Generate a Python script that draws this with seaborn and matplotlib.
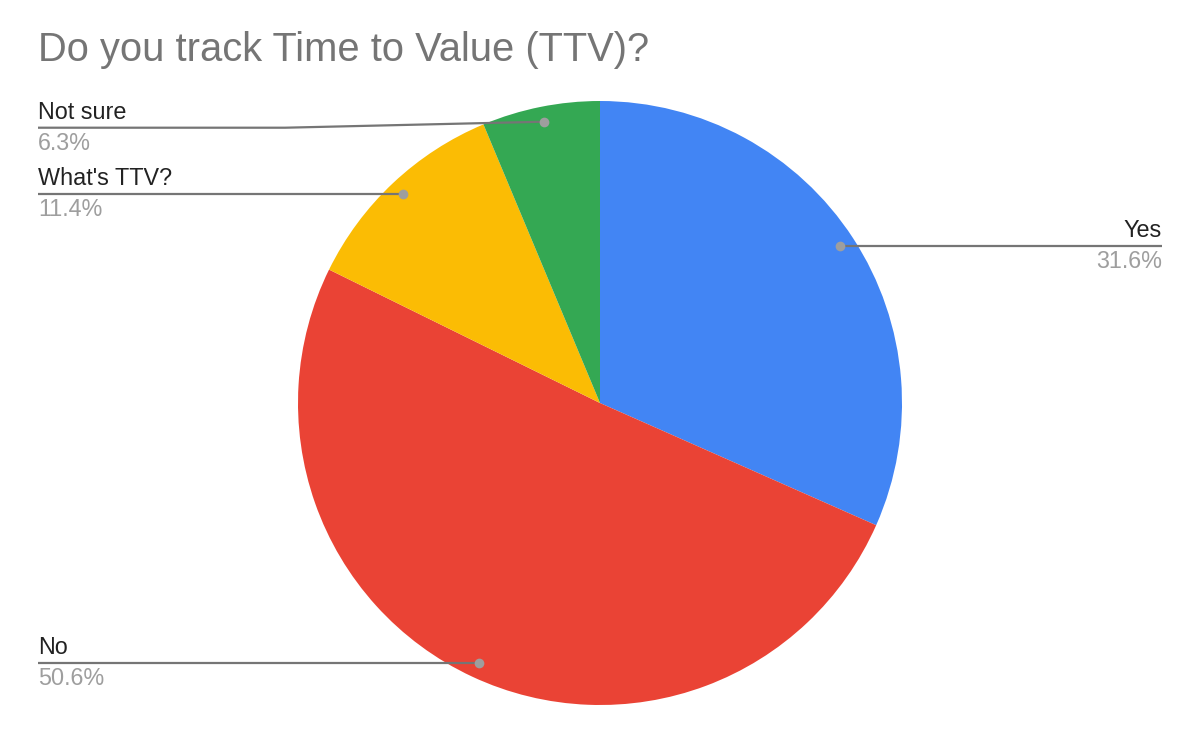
import numpy as np
import matplotlib
matplotlib.use('Agg')
import matplotlib.pyplot as plt
import seaborn as sns

categories = ['Yes', 'No', "What's TTV?", 'Not sure']
shares = [31.6, 50.6, 11.4, 6.3]
colors = ['#4285f4', '#ea4335', '#fbbc04', '#34a853']

sns.set_theme(style='white')
plt.rcParams['font.family'] = ['Liberation Sans', 'DejaVu Sans']

W, H = 1200, 742
fig = plt.figure(figsize=(12, 7.42), dpi=100)
ax = fig.add_axes([0, 0, 1, 1])

cx, cy, r = 600, H - 403, 302
wedges, _ = ax.pie(shares, colors=colors, startangle=90, counterclock=False,
                   center=(cx, cy), radius=r, wedgeprops=dict(linewidth=0))
ax.set_xlim(0, W)
ax.set_ylim(0, H)
ax.set_aspect('equal')
ax.axis('off')

# label placement: side, x of label, extra offset of the horizontal line
sides = {'Yes': ('right', 1162, 0), 'No': ('left', 38, 0),
         "What's TTV?": ('left', 38, 0), 'Not sure': ('left', 38, -6)}

for w, name, val in zip(wedges, categories, shares):
    mid = np.deg2rad((w.theta1 + w.theta2) / 2)
    dx = cx + 0.95 * r * np.cos(mid)
    dy = cy + 0.95 * r * np.sin(mid)
    side, lx, off = sides[name]
    ly = dy + off
    if off:
        bx = 285
        ax.plot([lx, bx, dx], [ly, ly, dy], color='#757575', lw=1.6,
                solid_capstyle='butt', zorder=3)
    else:
        ax.plot([lx, dx], [ly, dy], color='#757575', lw=1.6,
                solid_capstyle='butt', zorder=3)
    ax.plot(dx, dy, 'o', color='#9e9e9e', ms=7, mec='none', zorder=4)
    ha = 'right' if side == 'right' else 'left'
    ax.text(lx, ly + 4, name, ha=ha, va='bottom', fontsize=16.8, color='#222222')
    ax.text(lx, ly - 4, f'{val}%', ha=ha, va='top', fontsize=16.8, color='#9e9e9e')

ax.text(38, H - 50, 'Do you track Time to Value (TTV)?', ha='left', va='center',
        fontsize=28.7, color='#757575')

fig.savefig('out.png', dpi=100)
